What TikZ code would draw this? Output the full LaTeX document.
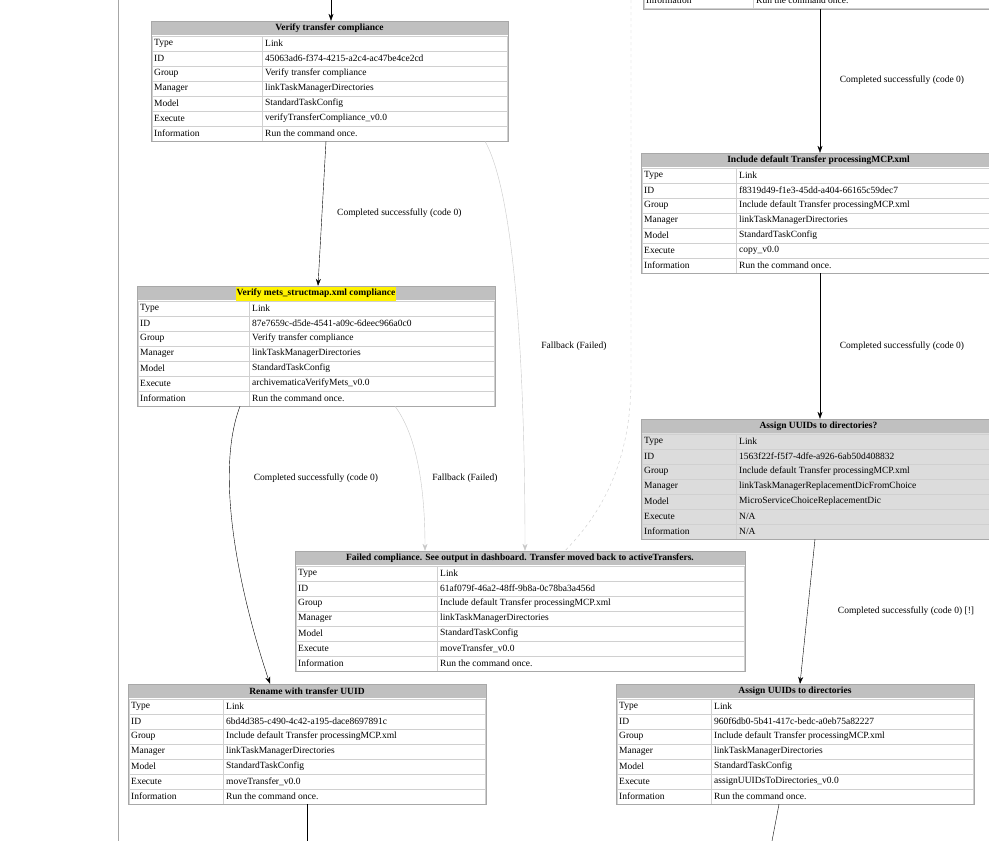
\documentclass[tikz,border=0pt]{standalone}
\usepackage{fontspec}
\setmainfont{Liberation Serif}
\usetikzlibrary{fit,arrows.meta}
\definecolor{hdr}{HTML}{C0C0C0}
\definecolor{cellb}{HTML}{D0D0D0}
\definecolor{outb}{HTML}{A8A8A8}
\definecolor{rowgray}{HTML}{DCDCDC}
\definecolor{lgray}{HTML}{C8C8C8}
\tikzset{
  txt/.style={font=\fontsize{9.5}{10}\selectfont, inner sep=0pt, anchor=west},
  ttl/.style={font=\fontsize{9.5}{10}\selectfont\bfseries, inner sep=0pt},
  edge/.style={draw=black, -{Stealth[length=7pt,width=5pt]}},
  fedge/.style={draw=lgray, -{Stealth[length=7pt,width=5pt]}},
  lbl/.style={font=\fontsize{9.5}{10}\selectfont, inner sep=1pt, fill=white},
}
% #1 name #2 x1 #3 ytop #4 x2 #5 split #6 title #7 rowfill #8 rows list
\newcommand\mytbl[8]{%
  \fill[fill=#7] (#2,#3) rectangle (#4,#3+120);
  \fill[fill=hdr] (#2,#3) rectangle (#4,#3+14);
  \node[ttl] at ({(#2+#4)/2},#3+7.5) {#6};
  \foreach \k/\v [count=\i] in {#8} {
    \draw[cellb] (#2+1,#3+15*\i) rectangle (#5,#3+15*\i+15);
    \draw[cellb] (#5,#3+15*\i) rectangle (#4-1,#3+15*\i+15);
    \node[txt] at (#2+3,#3+15*\i+7.5) {\k};
    \node[txt] at (#5+3,#3+15*\i+7.5) {\v};
  }
  \draw[outb] (#2,#3) rectangle (#4,#3+120);
  \node[fit={(#2,#3)(#4,#3+120)}, inner sep=0pt] (#1) {};
}
\begin{document}
\begin{tikzpicture}[x=1pt,y=-1pt]
\useasboundingbox (0,0) rectangle (989,841);
\clip (0,0) rectangle (989,841);
\draw[gray!70] (118,0) -- (118,841);

% top-right remnant
\draw[cellb] (644,-7) rectangle (753,8);
\draw[cellb] (753,-7) rectangle (995,8);
\draw[outb] (643,-10) rectangle (995,9);
\node[txt] at (646,0.5) {Information};
\node[txt] at (756,0.5) {Run the command once.};
\coordinate (top1) at (331,0);
\coordinate (top2) at (820,9);
\coordinate (top3) at (631,0);

\mytbl{T1}{151}{21}{508}{262}{Verify transfer compliance}{white}{Type/Link, ID/45063ad6-f374-4215-a2c4-ac47be4ce2cd, Group/Verify transfer compliance, Manager/linkTaskManagerDirectories, Model/StandardTaskConfig, Execute/verifyTransferCompliance\_v0.0, Information/Run the command once.}
\mytbl{T2}{137}{286}{495}{249}{\colorbox{yellow}{\hspace{-2pt}Verify mets\_structmap.xml compliance\hspace{-2pt}}}{white}{Type/Link, ID/87e7659c-d5de-4541-a09c-6deec966a0c0, Group/Verify transfer compliance, Manager/linkTaskManagerDirectories, Model/StandardTaskConfig, Execute/archivematicaVerifyMets\_v0.0, Information/Run the command once.}
\mytbl{T3}{295}{551}{745}{437}{Failed compliance. See output in dashboard. Transfer moved back to activeTransfers.}{white}{Type/Link, ID/61af079f-46a2-48ff-9b8a-0c78ba3a456d, Group/Include default Transfer processingMCP.xml, Manager/linkTaskManagerDirectories, Model/StandardTaskConfig, Execute/moveTransfer\_v0.0, Information/Run the command once.}
\mytbl{T4}{128}{684}{486}{223}{Rename with transfer UUID}{white}{Type/Link, ID/6bd4d385-c490-4c42-a195-dace8697891c, Group/Include default Transfer processingMCP.xml, Manager/linkTaskManagerDirectories, Model/StandardTaskConfig, Execute/moveTransfer\_v0.0, Information/Run the command once.}
\mytbl{T5}{641}{153}{996}{736}{Include default Transfer processingMCP.xml}{white}{Type/Link, ID/f8319d49-f1e3-45dd-a404-66165c59dec7, Group/Include default Transfer processingMCP.xml, Manager/linkTaskManagerDirectories, Model/StandardTaskConfig, Execute/copy\_v0.0, Information/Run the command once.}
\mytbl{T6}{641}{419}{996}{736}{Assign UUIDs to directories?}{rowgray}{Type/Link, ID/1563f22f-f5f7-4dfe-a926-6ab50d408832, Group/Include default Transfer processingMCP.xml, Manager/linkTaskManagerReplacementDicFromChoice, Model/MicroServiceChoiceReplacementDic, Execute/{N/A}, Information/{N/A}}
\mytbl{T7}{616}{684}{974}{711}{Assign UUIDs to directories}{white}{Type/Link, ID/960f6db0-5b41-417c-bedc-a0eb75a82227, Group/Include default Transfer processingMCP.xml, Manager/linkTaskManagerDirectories, Model/StandardTaskConfig, Execute/assignUUIDsToDirectories\_v0.0, Information/Run the command once.}

\coordinate (bot4) at (307,841);
\coordinate (bot7) at (772,841);

% edges
\draw[edge] (top1) -- (T1.north -| 331,0);
\draw[edge] (T1.south -| 326,0) -- (T2.north -| 318,0) node[lbl, pos=0.5, right=14pt] {Completed successfully (code 0)};
\draw[fedge] (T1.south -| 485,0) .. controls (518,200) and (525,400) .. (T3.north -| 525,0);
\node[lbl] at (574,346) {Fallback (Failed)};
\draw[lgray, dashed] (top3) -- (631,380) .. controls (631,470) and (595,520) .. (T3.north -| 565,0);
\draw[edge] (T2.south -| 240,0) .. controls (212,480) and (245,610) .. (T4.north -| 270,0);
\node[lbl] at (316,478) {Completed successfully (code 0)};
\draw[fedge] (T2.south -| 395,0) .. controls (420,440) and (425,500) .. (T3.north -| 425,0);
\node[lbl] at (465,478) {Fallback (Failed)};
\draw[edge] (top2) -- (T5.north -| 820,0);
\node[lbl] at (902,80) {Completed successfully (code 0)};
\draw[edge] (T5.south -| 820,0) -- (T6.north -| 820,0);
\node[lbl] at (902,346) {Completed successfully (code 0)};
\draw[edge] (T6.south -| 815,0) -- (T7.north -| 800,0);
\node[lbl] at (906,611) {Completed successfully (code 0) [!]};
\draw (T4.south -| 307,0) -- (bot4);
\draw (T7.south -| 779,0) -- (bot7);
\end{tikzpicture}
\end{document}
